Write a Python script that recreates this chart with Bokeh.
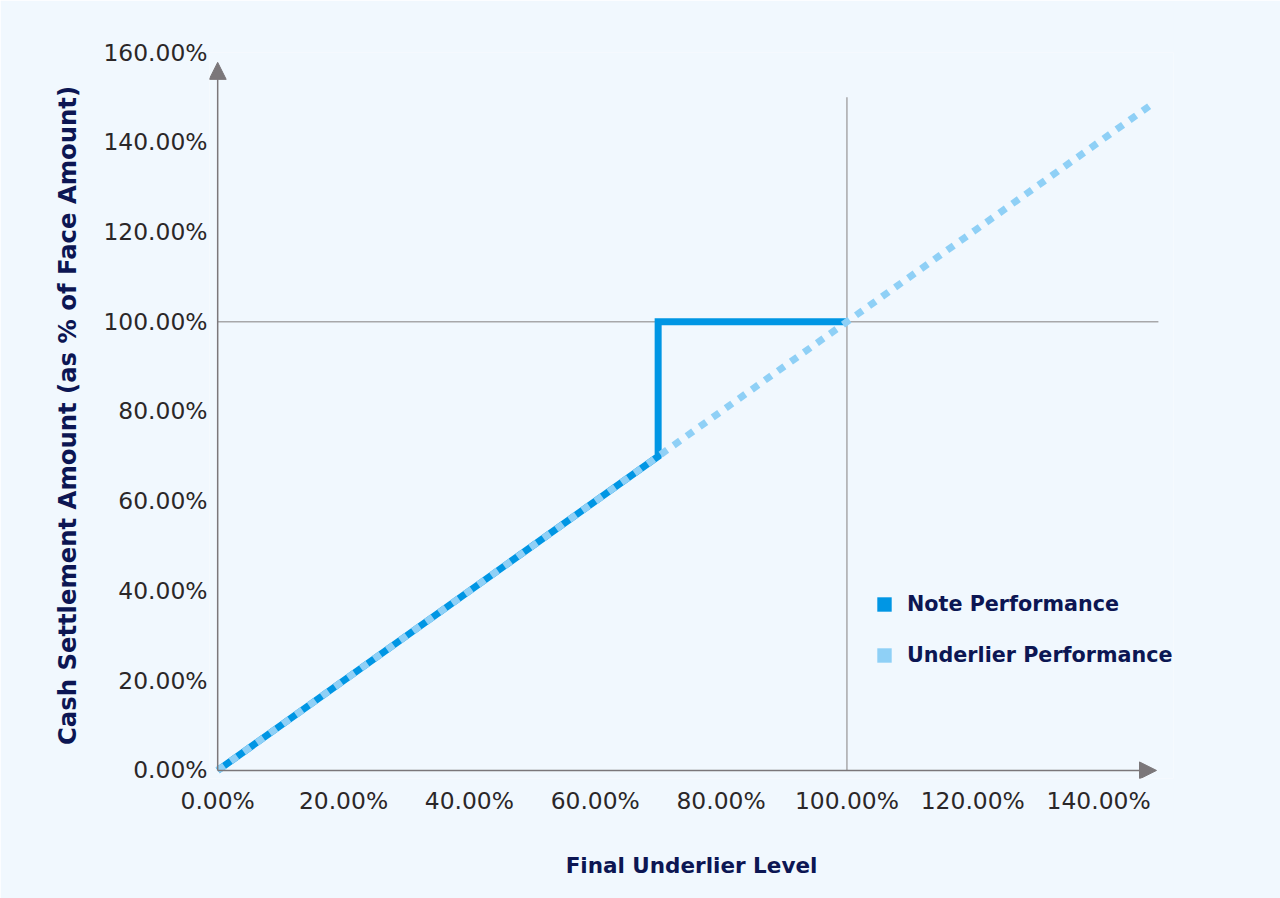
from bokeh.plotting import figure
from bokeh.models import (FixedTicker, PrintfTickFormatter, Arrow, NormalHead,
                          Legend, LegendItem, Range1d)
from bokeh.embed import file_html
from bokeh.resources import INLINE

# ---- data (percent units) ----
x_ticks = [0, 20, 40, 60, 80, 100, 120, 140]
y_ticks = [0, 20, 40, 60, 80, 100, 120, 140, 160]
note_x = [0, 70, 70, 100]
note_y = [0, 70, 100, 100]
underlier_x = [0, 148.5]
underlier_y = [0, 148.5]
ref_level = 100
ref_v_span = [0, 150]
ref_h_span = [0, 149.5]
x_axis_end = 149.2
y_axis_end = 157.8
series_names = ["Note Performance", "Underlier Performance"]

BG = "#f1f8fe"
NOTE = "#0096e4"
UNDER = "#8fd0f6"
NAVY = "#0c1653"
TICK = "#2b2728"
GRID = "#a8a8aa"
AX = "#7b777a"
FONT = "DejaVu Sans"

p = figure(width=1280, height=898, output_backend="svg", toolbar_location=None,
           x_range=Range1d(-1.3, 151.9), y_range=Range1d(-1.8, 160),
           min_border_left=209, min_border_right=107,
           min_border_top=52, min_border_bottom=120)
p.background_fill_color = BG
p.border_fill_color = BG
p.outline_line_color = None
p.xgrid.visible = False
p.ygrid.visible = False

# reference lines
p.line([ref_level, ref_level], ref_v_span, line_color=GRID, line_width=1.5)
p.line(ref_h_span, [ref_level, ref_level], line_color=GRID, line_width=1.5)

# axes drawn as arrows
p.add_layout(Arrow(x_start=0, y_start=0, x_end=x_axis_end, y_end=0,
                   line_color=AX, line_width=1.5,
                   end=NormalHead(size=17, fill_color=AX, line_color=AX)))
p.add_layout(Arrow(x_start=0, y_start=0, x_end=0, y_end=y_axis_end,
                   line_color=AX, line_width=1.5,
                   end=NormalHead(size=17, fill_color=AX, line_color=AX)))

# series
r_note = p.line(note_x, note_y, line_color=NOTE, line_width=7, line_join="miter")
r_under = p.line(underlier_x, underlier_y, line_color=UNDER, line_width=7,
                 line_dash="8 8")

# legend swatches (square patches placed off-frame)
sq_note = p.quad(left=[-500], right=[-499], bottom=[-500], top=[-499],
                 fill_color=NOTE, line_color=None)
sq_under = p.quad(left=[-500], right=[-499], bottom=[-500], top=[-499],
                  fill_color=UNDER, line_color=None)

legend = Legend(items=[LegendItem(label=series_names[0], renderers=[sq_note]),
                       LegendItem(label=series_names[1], renderers=[sq_under])],
                location=(666, 111), orientation="vertical")
legend.background_fill_alpha = 0
legend.border_line_color = None
legend.padding = 0
legend.margin = 0
legend.spacing = 27
legend.glyph_width = 18
legend.glyph_height = 18
legend.label_standoff = 14
legend.label_text_font = FONT
legend.label_text_font_style = "bold"
legend.label_text_font_size = "20.7px"
legend.label_text_color = NAVY
p.add_layout(legend)

for ax in (p.xaxis[0], p.yaxis[0]):
    ax.axis_line_color = None
    ax.major_tick_line_color = None
    ax.minor_tick_line_color = None
    ax.major_tick_out = 0
    ax.major_tick_in = 0
    ax.minor_tick_out = 0
    ax.major_label_text_font = FONT
    ax.major_label_text_font_size = "23.4px"
    ax.major_label_text_color = TICK
    ax.formatter = PrintfTickFormatter(format="%.2f%%")
    ax.axis_label_text_font = FONT
    ax.axis_label_text_font_style = "bold"
    ax.axis_label_text_color = NAVY

p.xaxis[0].ticker = FixedTicker(ticks=x_ticks)
p.yaxis[0].ticker = FixedTicker(ticks=y_ticks)
p.xaxis[0].axis_label = "Final Underlier Level"
p.yaxis[0].axis_label = "Cash Settlement Amount (as % of Face Amount)"
p.xaxis[0].axis_label_text_font_size = "21.5px"
p.yaxis[0].axis_label_text_font_size = "24.3px"
p.xaxis[0].major_label_standoff = 8
p.xaxis[0].axis_label_standoff = 35
p.yaxis[0].major_label_standoff = 2
p.yaxis[0].axis_label_standoff = 18

open("out.html", "w").write(file_html(p, INLINE))
